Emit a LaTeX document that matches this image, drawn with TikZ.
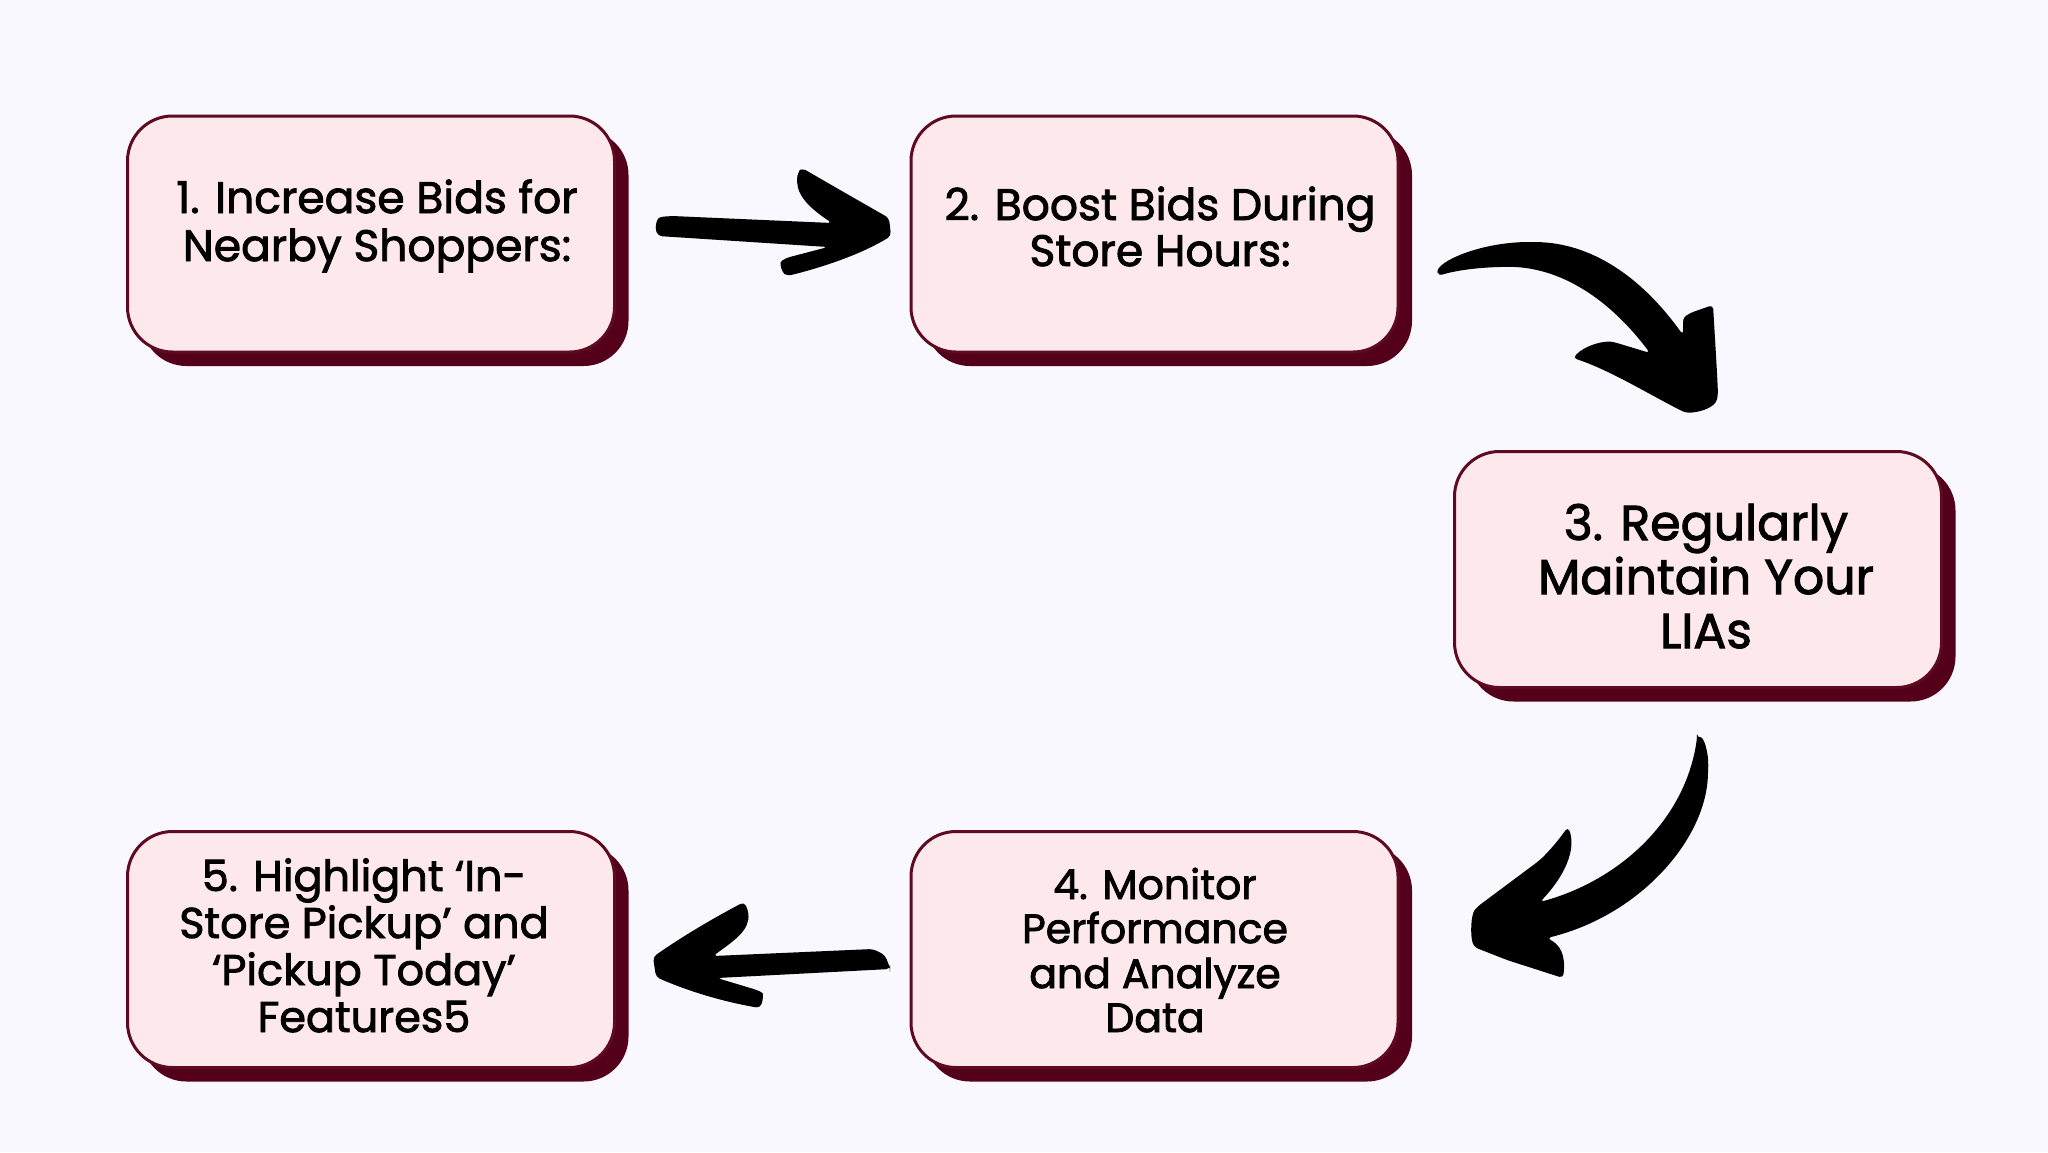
\documentclass[tikz,border=0pt]{standalone}
\usepackage{fontspec}
\setmainfont{Poppins}[FakeBold=2]
\usetikzlibrary{shadows}
\definecolor{bg}{HTML}{F8F8FE}
\definecolor{boxfill}{HTML}{FDE9EB}
\definecolor{boxline}{HTML}{5E0B22}
\definecolor{shadowc}{HTML}{55001A}
\definecolor{ink}{HTML}{000000}
\begin{document}
\begin{tikzpicture}[x=1pt,y=-1pt,
  stepbox/.style={draw=boxline, line width=3pt, fill=boxfill, rounded corners=45pt,
    minimum width=487pt, minimum height=236pt, inner sep=0pt,
    drop shadow={shadow xshift=14pt, shadow yshift=-14pt, fill=shadowc, opacity=1}},
  txta/.style={anchor=base, inner sep=0pt, font=\fontsize{44}{48}\selectfont},
  txtb/.style={anchor=base, inner sep=0pt, font=\fontsize{49}{54}\selectfont},
  txtc/.style={anchor=base, inner sep=0pt, font=\fontsize{41}{46}\selectfont},
  txtd/.style={anchor=base, inner sep=0pt, font=\fontsize{43}{50}\selectfont},
  brush/.style={fill=ink, rounded corners=4pt}]
\useasboundingbox[fill=bg] (0,0) rectangle (2048,1152);

% boxes
\node[stepbox] (b1) at (371,234) {};
\node[stepbox] (b2) at (1154.5,234) {};
\node[stepbox] (b3) at (1698,569.5) {};
\node[stepbox] (b4) at (1154.5,949.5) {};
\node[stepbox] (b5) at (371,949.5) {};

% texts
\node[txta] (t1a) at (377,213) {1. Increase Bids for};
\node[txta] (t1b) at (377,261) {Nearby Shoppers:};

\node[txta] (t2a) at (1160,220) {2. Boost Bids During};
\node[txta] (t2b) at (1160,266) {Store Hours:};

\node[txtb] (t3a) at (1706,540) {3. Regularly};
\node[txtb] (t3b) at (1706,594) {Maintain Your};
\node[txtb] (t3c) at (1706,648) {LIAs};

\node[txtc] (t4a) at (1155,899) {4. Monitor};
\node[txtc] (t4b) at (1155,943) {Performance};
\node[txtc] (t4c) at (1155,988) {and Analyze};
\node[txtc] (t4d) at (1155,1032) {Data};

\node[txtd] (t5a) at (364,891) {5. Highlight ‘In-};
\node[txtd] (t5b) at (364,938) {Store Pickup’ and};
\node[txtd] (t5c) at (364,985) {‘Pickup Today’};
\node[txtd] (t5d) at (364,1032) {Features5};

% arrow 1 -> 2
\fill[brush] (655,228) .. controls (658,217) .. (672,216) -- (832,223)
  .. controls (805,205) and (795,192) .. (798,172) -- (802,168)
  .. controls (840,190) .. (889,218) -- (891,236)
  .. controls (860,255) and (820,268) .. (787,276) -- (782,272)
  .. controls (780,262) .. (786,258) -- (828,247) -- (658,236) -- cycle;

% arrow 2 -> 3
\fill[brush] (1438,276) .. controls (1436,262) and (1480,242) .. (1533,242)
  .. controls (1590,243) and (1640,275) .. (1683,335)
  .. controls (1683,318) .. (1690,313) -- (1713,305)
  .. controls (1715,340) and (1717,370) .. (1718,395)
  .. controls (1715,408) and (1700,412) .. (1686,413)
  .. controls (1650,395) and (1610,370) .. (1573,358)
  .. controls (1585,345) and (1605,340) .. (1617,343) -- (1650,353)
  .. controls (1610,300) and (1560,265) .. (1500,267)
  .. controls (1470,268) and (1450,272) .. (1438,276) -- cycle;

% arrow 3 -> 4
\fill[brush] (1697,738) .. controls (1703,737) and (1709,750) .. (1708,773)
  .. controls (1705,840) and (1640,915) .. (1547,938)
  .. controls (1560,945) and (1566,955) .. (1563,978) -- (1507,960) -- (1474,947)
  .. controls (1470,935) and (1471,915) .. (1477,907) -- (1540,860)
  .. controls (1555,845) and (1562,835) .. (1568,827)
  .. controls (1575,845) and (1570,870) .. (1540,902)
  .. controls (1620,880) and (1685,820) .. (1697,738) -- cycle;

% arrow 4 -> 5
\fill[brush] (890,968) .. controls (885,955) .. (873,949) -- (713,956)
  .. controls (735,940) and (750,930) .. (748,910) -- (744,902)
  .. controls (710,920) and (680,938) .. (653,957) -- (656,977)
  .. controls (690,992) and (725,1002) .. (760,1008) -- (763,1000)
  .. controls (763,993) .. (757,990) -- (717,978) -- (890,969) -- cycle;
\end{tikzpicture}
\end{document}
